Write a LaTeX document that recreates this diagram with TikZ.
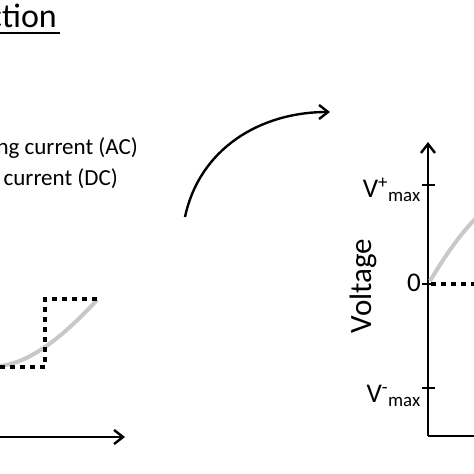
\documentclass[tikz,border=0pt]{standalone}
\usepackage{fontspec}
\setmainfont{Carlito}
\usepackage{tikz}
\usetikzlibrary{arrows.meta}
\tikzset{>={Straight Barb[length=9pt,width=14pt]}}
\definecolor{CurveGray}{HTML}{C8C8C8}
\newcommand{\titlefont}{\fontsize{34}{40}\selectfont}
\newcommand{\legendfont}{\fontsize{23}{28}\selectfont}
\newcommand{\ticklabelfont}{\fontsize{27}{32}\selectfont}
\newcommand{\axisfont}{\fontsize{31}{36}\selectfont}
\tikzset{
  axisline/.style={line width=2.4pt},
  dotline/.style={line width=4.5pt, dash pattern=on 4.5pt off 5.5pt},
  grayline/.style={line width=4pt, draw=CurveGray},
}

\begin{document}
\begin{tikzpicture}[x=1pt,y=1pt]
  \useasboundingbox (0,0) rectangle (474,474);
  % titre et legende
  \node[anchor=base east, inner sep=0pt, font=\titlefont] (title) at (57,446) {ction};
  \draw[line width=2pt] (0,441) -- (60,441);
  \node[anchor=base east, inner sep=0pt, font=\legendfont] (legac) at (138,319) {ting current (AC)};
  \node[anchor=base east, inner sep=0pt, font=\legendfont] (legdc) at (118,288) {t current (DC)};
  % graphe de gauche
  \coordinate (lstart) at (0,107);
  \coordinate (lstep) at (45,107);
  \coordinate (ltop) at (45,175);
  \coordinate (lend) at (97,175);
  \draw[grayline] (0,108) .. controls (35,112) and (70,145) .. (97,174);
  \draw[dotline] (lstart) -- (lstep) -- (ltop) -- (lend);
  \coordinate (lxa) at (-5,37);
  \coordinate (lxb) at (125,37);
  \draw[axisline, ->] (lxa) -- (lxb);
  % fleche courbe
  \coordinate (arrA) at (185,257);
  \coordinate (arrB) at (330,362);
  \draw[axisline, ->] (arrA) to[out=78, in=180] (arrB);
  % graphe de droite
  \coordinate (origin) at (428,38);
  \coordinate (ytip) at (428,332);
  \coordinate (xend) at (480,38);
  \draw[axisline, ->] (origin) -- (ytip);
  \draw[axisline] (origin) -- (xend);
  \draw[grayline] (430,193) .. controls (445,218) and (460,240) .. (478,258);
  \draw[dotline] (431,190) -- (478,190);
  \foreach \y/\b/\lab/\nm in {
    289/276/{V\textsuperscript{+}\textsubscript{max}}/vmax,
    190/182/{0}/zero,
    86/71/{V\textsuperscript{-}\textsubscript{max}}/vmin}{
    \draw[axisline] (422,\y) -- (435,\y); % graduation
    \node[anchor=base east, inner sep=0pt, font=\ticklabelfont] (\nm) at (421,\b) {\lab};
  }
  \node[rotate=90, inner sep=0pt, font=\axisfont] (ylab) at (363,188) {Voltage};
\end{tikzpicture}
\end{document}
